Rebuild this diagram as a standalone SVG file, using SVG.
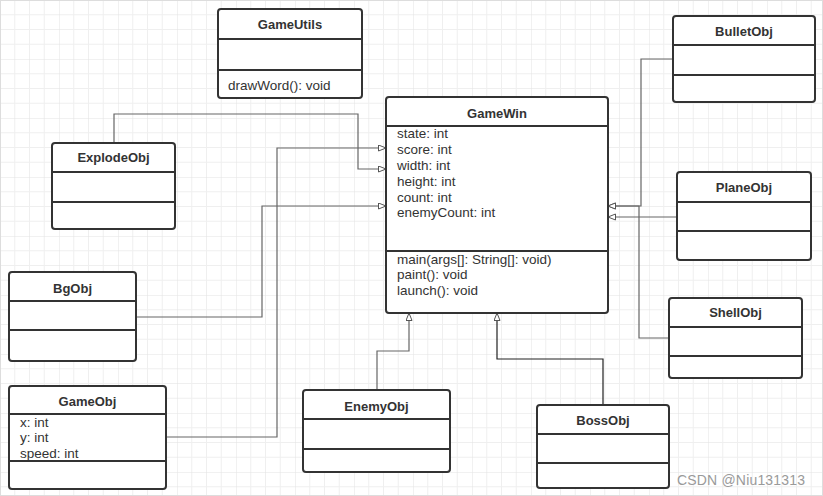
<svg xmlns="http://www.w3.org/2000/svg" width="823" height="496" viewBox="0 0 823 496">
<style>
.box{fill:#fff;stroke:#333;stroke-width:2}
.sep{stroke:#333;stroke-width:1.8}
.t{font-family:"Liberation Sans",Arial,sans-serif;font-size:13px;font-weight:bold;fill:#333;text-anchor:middle}
.a{font-family:"Liberation Sans",Arial,sans-serif;font-size:13.5px;fill:#333}
.c{fill:none;stroke:#666;stroke-width:1.2}
.cd{fill:none;stroke:#222;stroke-width:1.2}
</style>
<defs>
<pattern id="grid" width="59" height="59" patternUnits="userSpaceOnUse">
<path d="M14.75,0V59M29.5,0V59M44.25,0V59M0,14.75H59M0,29.5H59M0,44.25H59" stroke="#efefef" stroke-width="1" fill="none"/>
<path d="M0,0V59M0,0H59" stroke="#e3e3e3" stroke-width="1" fill="none"/>
</pattern>
<marker id="tri" markerWidth="9" markerHeight="8" refX="8" refY="3.5" orient="auto" markerUnits="userSpaceOnUse">
<path d="M0.5,0.5L8,3.5L0.5,6.5z" fill="#fff" stroke="#555" stroke-width="1"/>
</marker>
</defs>
<rect width="823" height="496" fill="#fff"/>
<rect width="823" height="496" fill="url(#grid)"/>
<rect x="0.5" y="0.5" width="822" height="495" fill="none" stroke="#ddd"/>

<g id="connectors">
<path class="c" d="M114,143V114H358V169H386" marker-end="url(#tri)"/>
<path class="c" d="M166,437H277V148H386" marker-end="url(#tri)"/>
<path class="c" d="M136,317H262V206H386" marker-end="url(#tri)"/>
<path class="c" d="M673,59H641V206H608" marker-end="url(#tri)"/>
<path class="c" d="M669,338H639V206H608" marker-end="url(#tri)"/>
<path class="c" d="M677,217H608" marker-end="url(#tri)"/>
<path class="c" d="M377,390V351H409V313" marker-end="url(#tri)"/>
<path class="cd" d="M603,405V359H497V313" marker-end="url(#tri)"/>
</g>

<g id="GameUtils">
<rect class="box" x="218" y="9" width="144" height="89" rx="3"/>
<line class="sep" x1="218" y1="39" x2="362" y2="39"/>
<line class="sep" x1="218" y1="70" x2="362" y2="70"/>
<text class="t" x="290" y="29">GameUtils</text>
<text class="a" x="228" y="90">drawWord(): void</text>
</g>

<g id="ExplodeObj">
<rect class="box" x="52" y="143" width="123" height="86" rx="3"/>
<line class="sep" x1="52" y1="172" x2="175" y2="172"/>
<line class="sep" x1="52" y1="202" x2="175" y2="202"/>
<text class="t" x="113.5" y="162">ExplodeObj</text>
</g>

<g id="GameWin">
<rect class="box" x="386" y="97" width="222" height="216" rx="3"/>
<line class="sep" x1="386" y1="126" x2="608" y2="126"/>
<line class="sep" x1="386" y1="251" x2="608" y2="251"/>
<text class="t" x="497" y="118">GameWin</text>
<text class="a" x="397" y="138">state: int</text>
<text class="a" x="397" y="154">score: int</text>
<text class="a" x="397" y="170">width: int</text>
<text class="a" x="397" y="186">height: int</text>
<text class="a" x="397" y="202">count: int</text>
<text class="a" x="397" y="217">enemyCount: int</text>
<text class="a" x="397" y="264">main(args[]: String[]: void)</text>
<text class="a" x="397" y="279">paint(): void</text>
<text class="a" x="397" y="295">launch(): void</text>
</g>

<g id="BulletObj">
<rect class="box" x="673" y="16" width="142" height="86" rx="3"/>
<line class="sep" x1="673" y1="45" x2="815" y2="45"/>
<line class="sep" x1="673" y1="75" x2="815" y2="75"/>
<text class="t" x="744" y="36">BulletObj</text>
</g>

<g id="PlaneObj">
<rect class="box" x="677" y="172" width="134" height="88" rx="3"/>
<line class="sep" x1="677" y1="202" x2="811" y2="202"/>
<line class="sep" x1="677" y1="231" x2="811" y2="231"/>
<text class="t" x="744" y="192">PlaneObj</text>
</g>

<g id="ShellObj">
<rect class="box" x="669" y="298" width="133" height="80" rx="3"/>
<line class="sep" x1="669" y1="327" x2="802" y2="327"/>
<line class="sep" x1="669" y1="356" x2="802" y2="356"/>
<text class="t" x="735.5" y="317">ShellObj</text>
</g>

<g id="BgObj">
<rect class="box" x="9" y="272" width="127" height="89" rx="3"/>
<line class="sep" x1="9" y1="301" x2="136" y2="301"/>
<line class="sep" x1="9" y1="330" x2="136" y2="330"/>
<text class="t" x="72.5" y="293">BgObj</text>
</g>

<g id="GameObj">
<rect class="box" x="9" y="386" width="157" height="103" rx="3"/>
<line class="sep" x1="9" y1="414" x2="166" y2="414"/>
<line class="sep" x1="9" y1="461" x2="166" y2="461"/>
<text class="t" x="87.5" y="406">GameObj</text>
<text class="a" x="20" y="427">x: int</text>
<text class="a" x="20" y="442">y: int</text>
<text class="a" x="20" y="458">speed: int</text>
</g>

<g id="EnemyObj">
<rect class="box" x="303" y="390" width="147" height="82" rx="3"/>
<line class="sep" x1="303" y1="419" x2="450" y2="419"/>
<line class="sep" x1="303" y1="449" x2="450" y2="449"/>
<text class="t" x="376.5" y="411">EnemyObj</text>
</g>

<g id="BossObj">
<rect class="box" x="537" y="405" width="132" height="83" rx="3"/>
<line class="sep" x1="537" y1="434" x2="669" y2="434"/>
<line class="sep" x1="537" y1="463" x2="669" y2="463"/>
<text class="t" x="603" y="425">BossObj</text>
</g>

<text x="677" y="485" font-family="'Liberation Sans',Arial,sans-serif" font-size="14" fill="#9a9a9a" textLength="128">CSDN @Niu131313</text>
</svg>
